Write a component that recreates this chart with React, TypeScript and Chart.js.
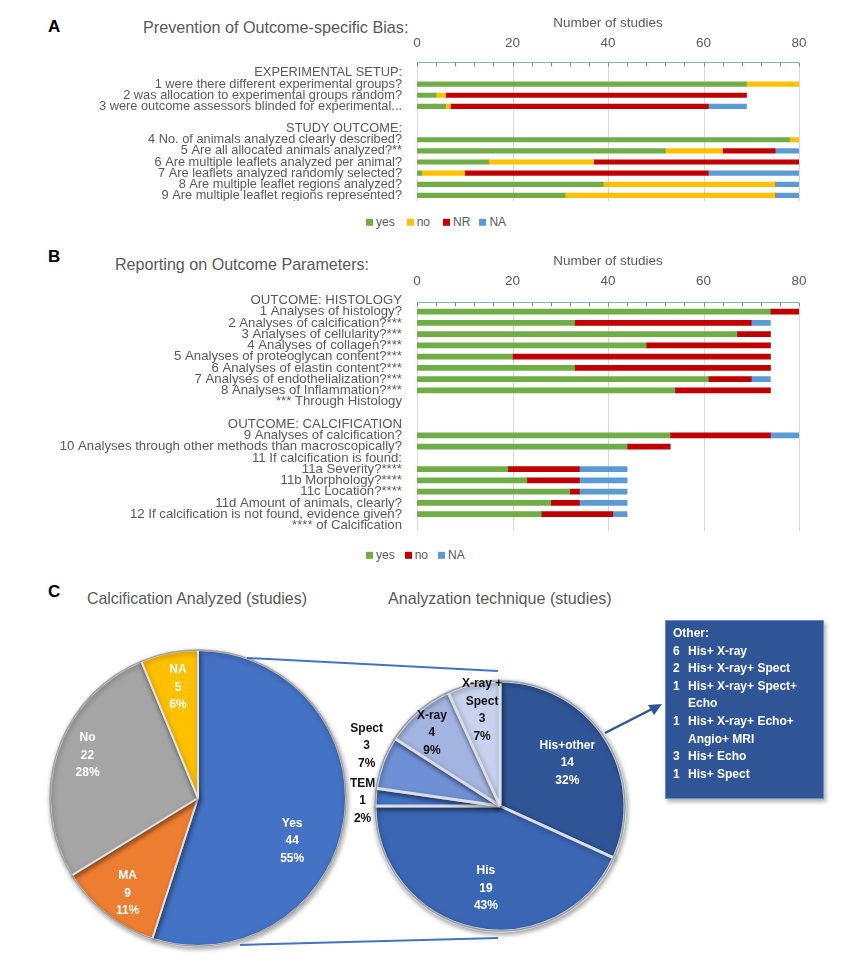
import React, { useEffect, useRef } from 'react';
import { Chart, registerables } from 'chart.js';
Chart.register(...registerables);

const FONT = "'Liberation Sans', Arial, sans-serif";
const TEXT_GRAY = '#595959';
const GREEN = '#70ad47';
const YELLOW = '#ffc000';
const RED = '#c00000';
const BLUE = '#5b9bd5';

// ---------- Panel A data ----------
const biasLabels = [
  'EXPERIMENTAL SETUP:',
  '1 were there different experimental groups?',
  '2 was allocation to experimental groups random?',
  '3 were outcome assessors blinded for experimental...',
  '',
  'STUDY OUTCOME:',
  '4 No. of animals analyzed clearly described?',
  '5 Are all allocated animals analyzed?**',
  '6 Are multiple leaflets analyzed per animal?',
  '7 Are leaflets analyzed randomly selected?',
  '8 Are multiple leaflet regions analyzed?',
  '9 Are multiple leaflet regions represented?',
];
const biasYes = [null, 69, 4, 6, null, null, 78, 52, 15, 1, 39, 31];
const biasNo = [null, 11, 2, 1, null, null, 2, 12, 22, 9, 36, 44];
const biasNR = [null, 0, 63, 54, null, null, 0, 11, 43, 51, 0, 0];
const biasNA = [null, 0, 0, 8, null, null, 0, 5, 0, 19, 5, 5];

// ---------- Panel B data ----------
const reportLabels = [
  'OUTCOME: HISTOLOGY',
  '1 Analyses of histology?',
  '2 Analyses of calcification?***',
  '3 Analyses of cellularity?***',
  '4 Analyses of collagen?***',
  '5 Analyses of proteoglycan content?***',
  '6 Analyses of elastin content?***',
  '7 Analyses of endothelialization?***',
  '8 Analyses of Inflammation?***',
  '*** Through Histology',
  '',
  'OUTCOME: CALCIFICATION',
  '9 Analyses of calcification?',
  '10 Analyses through other methods than macroscopically?',
  '11 If calcification is found:',
  '11a Severity?****',
  '11b Morphology?****',
  '11c Location?****',
  '11d Amount of animals, clearly?',
  '12 If calcification is not found, evidence given?',
  '**** of Calcification',
];
const reportYes = [null, 74, 33, 67, 48, 20, 33, 61, 54, null, null, null, 53, 44, null, 19, 23, 32, 28, 26, null];
const reportNo = [null, 6, 37, 7, 26, 54, 41, 9, 20, null, null, null, 21, 9, null, 15, 11, 2, 6, 15, null];
const reportNA = [null, 0, 4, 0, 0, 0, 0, 4, 0, null, null, null, 6, 0, null, 10, 10, 10, 10, 3, null];

const xTickValues = [0, 20, 40, 60, 80];

// ---------- Panel C data ----------
const calcLabels = ['Yes', 'MA', 'No', 'NA'];
const calcValues = [44, 9, 22, 5];
const techLabels = ['His+other', 'His', 'TEM', 'Spect', 'X-ray', 'X-ray +\nSpect'];
const techValues = [14, 19, 1, 3, 4, 3];
const otherCounts = ['6', '2', '1', '1', '3', '1'];
const otherItems = ['His+ X-ray', 'His+ X-ray+ Spect', 'His+ X-ray+ Spect+\nEcho', 'His+ X-ray+ Echo+\nAngio+ MRI', 'His+ Echo', 'His+ Spect'];

// ---------- plugins ----------
const studyAxisPlugin = {
  id: 'studyAxis',
  beforeDatasetsDraw(chart: any, _args: any, opts: any) {
    const { ctx, chartArea } = chart;
    const xs = chart.scales.x;
    const axisY = Math.round(chartArea.top + (opts.offset || 0)) + 0.5;
    ctx.save();
    ctx.lineWidth = 1;
    ctx.strokeStyle = '#d9d9d9';
    for (const t of xs.ticks) {
      if (!xTickValues.includes(t.value)) continue;
      const px = Math.round(xs.getPixelForValue(t.value)) + 0.5;
      ctx.beginPath();
      ctx.moveTo(px, axisY);
      ctx.lineTo(px, chartArea.bottom + (opts.bottom || 0));
      ctx.stroke();
    }
    ctx.strokeStyle = '#8eaadb';
    ctx.beginPath();
    ctx.moveTo(chartArea.left, axisY);
    ctx.lineTo(chartArea.right, axisY);
    ctx.stroke();
    ctx.strokeStyle = '#7088b0';
    for (const t of xs.ticks) {
      const px = Math.round(xs.getPixelForValue(t.value)) + 0.5;
      ctx.beginPath();
      ctx.moveTo(px, axisY);
      ctx.lineTo(px, axisY + 4);
      ctx.stroke();
    }
    ctx.restore();
  },
};

const pieShadowPlugin = {
  id: 'pieShadow',
  beforeDatasetDraw(chart: any) {
    const c = chart.ctx;
    c.save();
    c.shadowColor = 'rgba(0,0,0,0.35)';
    c.shadowBlur = 5;
    c.shadowOffsetX = 1;
    c.shadowOffsetY = 2;
  },
  afterDatasetDraw(chart: any) {
    chart.ctx.restore();
  },
};

const pieLabelPlugin = {
  id: 'pieLabels',
  afterDatasetsDraw(chart: any, _args: any, opts: any) {
    const { ctx } = chart;
    const meta = chart.getDatasetMeta(0);
    const values = chart.data.datasets[0].data as number[];
    const total = values.reduce((a, b) => a + b, 0);
    ctx.save();
    const a0 = meta.data[0];
    if (a0) {
      const { x, y, outerRadius } = a0.getProps(['x', 'y', 'outerRadius'], true);
      ctx.strokeStyle = opts.rim;
      ctx.lineWidth = 1.5;
      ctx.beginPath();
      ctx.arc(x, y, outerRadius, 0, Math.PI * 2);
      ctx.stroke();
    }
    ctx.font = `bold 12px ${FONT}`;
    ctx.textAlign = 'center';
    ctx.textBaseline = 'middle';
    meta.data.forEach((arc: any, i: number) => {
      const { startAngle, endAngle, outerRadius, x, y } = arc.getProps(
        ['startAngle', 'endAngle', 'outerRadius', 'x', 'y'],
        true
      );
      const ang = (startAngle + endAngle) / 2 + (opts.shift[i] * Math.PI) / 180;
      const r = outerRadius * opts.frac[i];
      const px = x + Math.cos(ang) * r;
      const py = y + Math.sin(ang) * r;
      const lines = [
        ...String(chart.data.labels[i]).split('\n'),
        String(values[i]),
        Math.round((values[i] / total) * 100) + '%',
      ];
      const lh = 17.5;
      ctx.fillStyle = opts.colors[i];
      lines.forEach((ln, k) => ctx.fillText(ln, px, py + (k - (lines.length - 1) / 2) * lh));
    });
    ctx.restore();
  },
};

// ---------- components ----------
type BarSeries = { label: string; data: (number | null)[]; color: string };

interface BarPanelProps {
  top: number;
  height: number;
  labels: string[];
  series: BarSeries[];
  axisHeight: number;
  tickPadding: number;
  titlePadTop: number;
  axisOffset: number;
  barThickness: number;
  labelFont: number;
  legendY: number;
  legendGaps: number[];
}

function BarPanel(p: BarPanelProps) {
  const ref = useRef<HTMLCanvasElement>(null);
  useEffect(() => {
    const chart = new Chart(ref.current as HTMLCanvasElement, {
      type: 'bar',
      data: {
        labels: p.labels,
        datasets: p.series.map((s) => ({
          label: s.label,
          data: s.data,
          backgroundColor: s.color,
          borderWidth: 0,
          barThickness: p.barThickness,
        })),
      },
      options: {
        indexAxis: 'y',
        animation: false,
        responsive: false,
        layout: { padding: { left: 0, right: 41, top: 0, bottom: 0 } },
        scales: {
          x: {
            type: 'linear',
            position: 'top',
            stacked: true,
            min: 0,
            max: 80,
            afterFit: (s: any) => {
              s.height = p.axisHeight;
            },
            ticks: {
              stepSize: 4,
              autoSkip: false,
              maxRotation: 0,
              padding: p.tickPadding,
              color: TEXT_GRAY,
              font: { family: FONT, size: 13.5 },
              callback: (v: any) => (xTickValues.includes(Number(v)) ? String(v) : ''),
            },
            grid: { display: false, drawTicks: false },
            border: { display: false },
            title: {
              display: true,
              text: 'Number of studies',
              color: TEXT_GRAY,
              font: { family: FONT, size: 13.5 },
              padding: { top: p.titlePadTop, bottom: 0 },
            },
          },
          y: {
            type: 'category',
            stacked: true,
            afterFit: (s: any) => {
              s.width = 377;
              s.paddingTop = 0;
              s.paddingBottom = 0;
            },
            grid: { display: false, drawTicks: false },
            border: { display: false },
            ticks: {
              autoSkip: false,
              padding: 15,
              color: TEXT_GRAY,
              font: { family: FONT, size: p.labelFont },
            },
          },
        },
        plugins: {
          legend: { display: false },
          tooltip: { enabled: false },
          studyAxis: { offset: p.axisOffset },
        } as any,
      },
      plugins: [studyAxisPlugin],
    });
    return () => chart.destroy();
  }, []);
  return (
    <>
      <canvas
        ref={ref}
        width={800}
        height={p.height}
        style={{ position: 'absolute', left: 40, top: p.top, width: 800, height: p.height }}
      />
      <div
        style={{
          position: 'absolute',
          left: 366,
          top: p.legendY,
          transform: 'translateY(-50%)',
          display: 'flex',
          alignItems: 'center',
          fontFamily: FONT,
          fontSize: 12,
          color: TEXT_GRAY,
          lineHeight: 1.2,
          whiteSpace: 'nowrap',
        }}
      >
        {p.series.map((s, i) => (
          <div key={s.label} style={{ display: 'flex', alignItems: 'center', marginRight: p.legendGaps[i] }}>
            <span style={{ width: 7, height: 7, background: s.color, display: 'inline-block', marginRight: 3 }} />
            <span>{s.label}</span>
          </div>
        ))}
      </div>
    </>
  );
}

interface PieProps {
  cx: number;
  cy: number;
  radius: number;
  labels: string[];
  values: number[];
  colors: string[];
  textColors: string[];
  frac: number[];
  shift: number[];
  borderColor: string;
  borderWidth: number;
  rim: string;
}

function PiePanel(p: PieProps) {
  const ref = useRef<HTMLCanvasElement>(null);
  const size = 340;
  useEffect(() => {
    const chart = new Chart(ref.current as HTMLCanvasElement, {
      type: 'pie',
      data: {
        labels: p.labels,
        datasets: [
          {
            data: p.values,
            backgroundColor: p.colors,
            borderColor: p.borderColor,
            borderWidth: p.borderWidth,
            radius: p.radius,
          } as any,
        ],
      },
      options: {
        animation: false,
        responsive: false,
        radius: p.radius,
        layout: { padding: 0 },
        plugins: {
          legend: { display: false },
          tooltip: { enabled: false },
          pieLabels: { colors: p.textColors, frac: p.frac, shift: p.shift, rim: p.rim },
        } as any,
      } as any,
      plugins: [pieShadowPlugin, pieLabelPlugin],
    });
    return () => chart.destroy();
  }, []);
  return (
    <canvas
      ref={ref}
      width={size}
      height={size}
      style={{ position: 'absolute', left: p.cx - size / 2, top: p.cy - size / 2, width: size, height: size }}
    />
  );
}

function Label(props: { x: number; cy: number; text: string; size: number; bold?: boolean; color?: string }) {
  return (
    <div
      style={{
        position: 'absolute',
        left: props.x,
        top: props.cy,
        transform: 'translateY(-50%)',
        whiteSpace: 'nowrap',
        lineHeight: 1.2,
        fontSize: props.size,
        fontWeight: props.bold ? 'bold' : 'normal',
        color: props.color || TEXT_GRAY,
        fontFamily: FONT,
      }}
    >
      {props.text}
    </div>
  );
}

export default function App() {
  return (
    <div
      style={{
        position: 'absolute',
        left: 0,
        top: 0,
        width: 865,
        height: 966,
        overflow: 'hidden',
        background: '#ffffff',
        fontFamily: FONT,
      }}
    >
      <Label x={48} cy={27} text="A" size={17} bold color="#000" />
      <Label x={143} cy={28} text="Prevention of Outcome-specific Bias:" size={16.2} />
      <BarPanel
        top={0}
        height={201}
        labels={biasLabels}
        series={[
          { label: 'yes', data: biasYes, color: GREEN },
          { label: 'no', data: biasNo, color: YELLOW },
          { label: 'NR', data: biasNR, color: RED },
          { label: 'NA', data: biasNA, color: BLUE },
        ]}
        axisHeight={67.4}
        tickPadding={16}
        titlePadTop={14.9}
        axisOffset={-5.4}
        barThickness={4.5}
        labelFont={12.8}
        legendY={222}
        legendGaps={[12, 13, 9, 0]}
      />

      <Label x={48} cy={257} text="B" size={17} bold color="#000" />
      <Label x={115} cy={265} text="Reporting on Outcome Parameters:" size={16.1} />
      <BarPanel
        top={245}
        height={286}
        labels={reportLabels}
        series={[
          { label: 'yes', data: reportYes, color: GREEN },
          { label: 'no', data: reportNo, color: RED },
          { label: 'NA', data: reportNA, color: BLUE },
        ]}
        axisHeight={49.8}
        tickPadding={5}
        titlePadTop={7.9}
        axisOffset={7.2}
        barThickness={5}
        labelFont={13.2}
        legendY={555}
        legendGaps={[10, 10, 0]}
      />

      <Label x={48} cy={592} text="C" size={17} bold color="#000" />
      <Label x={87} cy={599} text="Calcification Analyzed (studies)" size={15.9} />
      <Label x={388} cy={599} text="Analyzation technique (studies)" size={16.1} />

      <PiePanel
        cx={198}
        cy={798}
        radius={148}
        labels={calcLabels}
        values={calcValues}
        colors={['#4472c4', '#ed7d31', '#a5a5a5', '#ffc000']}
        textColors={['#ffffff', '#ffffff', '#ffffff', '#ffffff']}
        frac={[0.7, 0.8, 0.8, 0.76]}
        shift={[15.6, -1.8, 3.1, 1]}
        borderColor="#e2e2e2"
        borderWidth={2}
        rim="rgba(110,110,110,0.55)"
      />
      <PiePanel
        cx={500}
        cy={806}
        radius={125}
        labels={techLabels}
        values={techValues}
        colors={['#2f5597', '#3b66b4', '#4472c4', '#7090d6', '#a3b4e0', '#c8d2ee']}
        textColors={['#ffffff', '#ffffff', '#111111', '#111111', '#111111', '#111111']}
        frac={[0.64, 0.67, 1.1, 1.17, 0.8, 0.78]}
        shift={[0, -2.6, -2, 3.8, -2, 1.7]}
        borderColor="#d8dde6"
        borderWidth={3}
        rim="rgba(110,110,110,0.55)"
      />

      <svg width={865} height={966} style={{ position: 'absolute', left: 0, top: 0, pointerEvents: 'none' }}>
        <line x1={247} y1={658} x2={498} y2={671} stroke="#4472c4" strokeWidth={2} />
        <line x1={240} y1={945} x2={498} y2={938} stroke="#4472c4" strokeWidth={2} />
        <line x1={605} y1={733} x2={654} y2={708} stroke="#2f5597" strokeWidth={2.5} />
        <polygon points="662,704 648,705 654,715" fill="#2f5597" />
      </svg>

      <div
        style={{
          position: 'absolute',
          left: 665,
          top: 620,
          width: 159,
          height: 179,
          boxSizing: 'border-box',
          background: '#2f5597',
          border: '1px solid #6b8cc7',
          boxShadow: '2px 3px 4px rgba(0,0,0,0.3)',
          color: '#ffffff',
          fontFamily: FONT,
          fontWeight: 'bold',
          fontSize: 12,
          lineHeight: '17.6px',
          padding: '4px 4px 0 7px',
        }}
      >
        <div>Other:</div>
        {otherItems.map((t, i) => (
          <div key={i} style={{ display: 'flex' }}>
            <span style={{ width: 15, flex: 'none' }}>{otherCounts[i]}</span>
            <span style={{ whiteSpace: 'pre-line' }}>{t}</span>
          </div>
        ))}
      </div>
    </div>
  );
}
